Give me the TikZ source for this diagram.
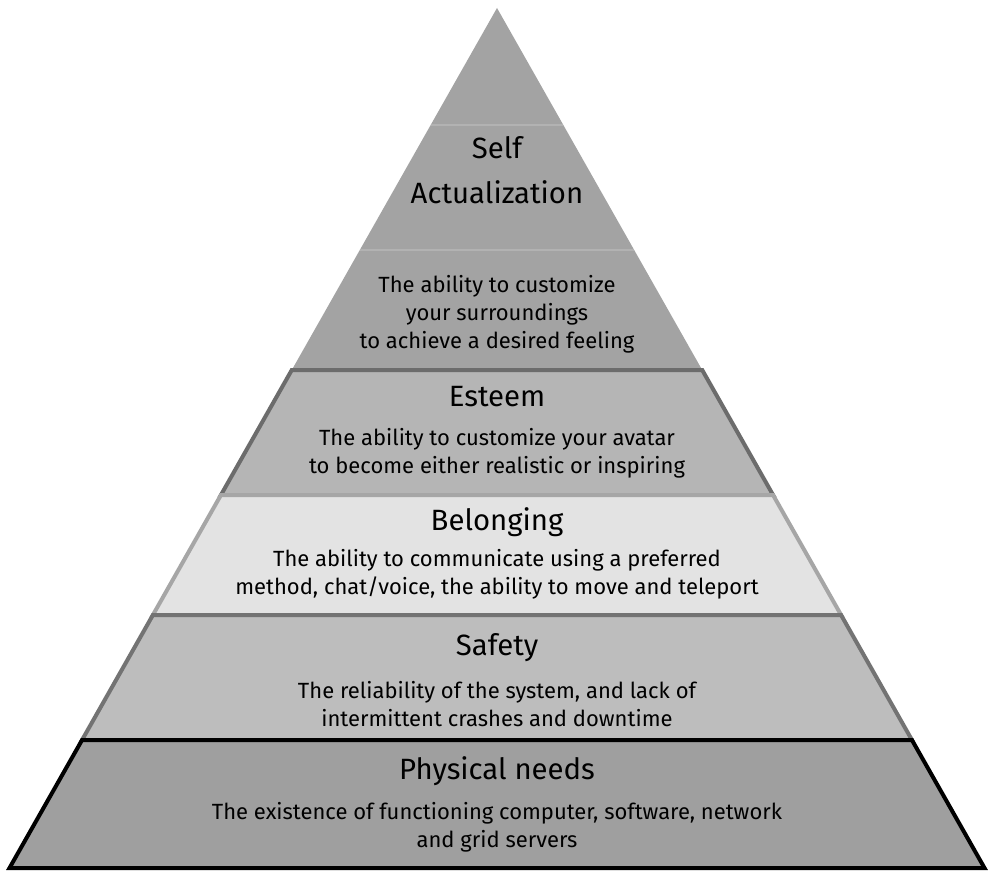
\documentclass[tikz,border=0pt]{standalone}
\usepackage{fontspec}
\setmainfont{Fira Sans}
\begin{document}
\begin{tikzpicture}[x=0.75pt,y=-0.75pt,
  ttl/.style={font=\fontsize{22}{26}\selectfont, inner sep=0pt},
  txt/.style={font=\fontsize{16.5}{21}\selectfont, align=center, inner sep=0pt},
  layer/.style={line width=3pt, line join=miter}]
\useasboundingbox (0,0) rectangle (1000,874);
\fill[white] (0,0) rectangle (1000,874);
% half width at y: (y-8)/860*487.5
\def\hw#1{((#1-8)*0.56686)}
\coordinate (apex) at (497,8);
% top triangle
\fill[gray!72] (497,8) -- ({497-(370-8)*0.56686},370) -- ({497+(370-8)*0.56686},370) -- cycle;
\draw[gray!60, line width=1pt] ({497-(125-8)*0.56686},125) -- ({497+(125-8)*0.56686},125);
\draw[gray!60, line width=1pt] ({497-(250-8)*0.56686},250) -- ({497+(250-8)*0.56686},250);
% layers
\foreach \ya/\yb/\fc/\dc in {370/495/gray!58/gray!85!black, 495/615/gray!22/gray!70, 615/740/gray!52/gray!90!black, 740/868/gray!75/black}{
  \filldraw[layer, fill=\fc, draw=\dc] ({497-(\ya-8)*0.56686},\ya) -- ({497+(\ya-8)*0.56686},\ya) -- ({497+(\yb-8)*0.56686},\yb) -- ({497-(\yb-8)*0.56686},\yb) -- cycle;
}
\node[ttl] (self) at (497,148) {Self};
\node[ttl] (act) at (497,192) {Actualization};
\node[txt] (sadesc) at (497,314) {The ability to customize\\your surroundings\\to achieve a desired feeling};
\node[ttl] (est) at (497,397) {Esteem};
\node[txt] (estdesc) at (497,453) {The ability to customize your avatar\\to become either realistic or inspiring};
\node[ttl] (bel) at (497,522) {Belonging};
\node[txt] (beldesc) at (497,574) {The ability to communicate using a preferred\\method, chat/voice, the ability to move and teleport};
\node[ttl] (saf) at (497,648) {Safety};
\node[txt] (safdesc) at (497,704) {The reliability of the system, and lack of\\intermittent crashes and downtime};
\node[ttl] (phy) at (497,771) {Physical needs};
\node[txt] (phydesc) at (497,827) {The existence of functioning computer, software, network\\and grid servers};
\end{tikzpicture}
\end{document}
